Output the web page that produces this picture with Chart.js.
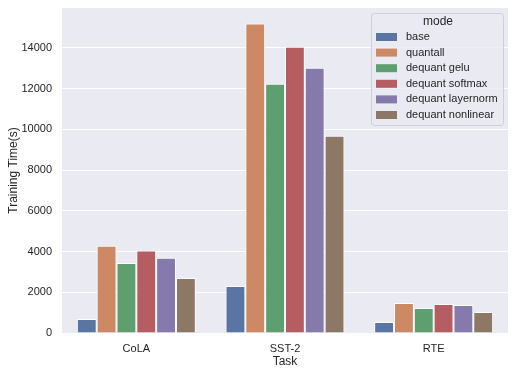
<!DOCTYPE html>
<html>
<head>
<meta charset="utf-8">
<script src="https://cdn.jsdelivr.net/npm/chart.js@4"></script>
<style>
  body { margin: 0; background: #ffffff; }
  #wrap { width: 514px; height: 374px; }
</style>
</head>
<body>
<div id="wrap"><canvas id="canvas" width="514" height="374"></canvas></div>
<script>
// categories and series
var tasks = ["CoLA", "SST-2", "RTE"];
var modes = ["base", "quantall", "dequant gelu", "dequant softmax", "dequant layernorm", "dequant nonlinear"];
var base = [690, 2310, 540];
var quantall = [4280, 15200, 1475];
var dequantGelu = [3440, 12240, 1230];
var dequantSoftmax = [4050, 14060, 1425];
var dequantLayernorm = [3690, 13030, 1380];
var dequantNonlinear = [2700, 9690, 1030];
var colors = ["#5975A4", "#CC8963", "#5F9E6E", "#B55D60", "#857AAB", "#8D7866"];
var yTicks = [0, 2000, 4000, 6000, 8000, 10000, 12000, 14000];

var series = [base, quantall, dequantGelu, dequantSoftmax, dequantLayernorm, dequantNonlinear];
var font = "'Liberation Sans', Arial, sans-serif";
var textColor = "#262626";

// grey seaborn background behind the plot
var bgPlugin = {
  id: 'bg',
  beforeDraw: function(chart) {
    var a = chart.chartArea, ctx = chart.ctx;
    ctx.save();
    ctx.fillStyle = "#EAEAF2";
    ctx.fillRect(a.left, a.top, a.right - a.left, a.bottom - a.top);
    ctx.restore();
  }
};

// legend box inside the plot, top right, with a title
var legendPlugin = {
  id: 'boxLegend',
  afterDraw: function(chart) {
    var a = chart.chartArea, ctx = chart.ctx;
    var sets = chart.data.datasets;
    var w = 132, rowH = 15.6, h = 112;
    var x = a.right - 5 - w, y = a.top + 5;
    ctx.save();
    ctx.beginPath();
    ctx.roundRect(x + 0.5, y + 0.5, w, h, 3);
    ctx.fillStyle = "rgba(234,234,242,0.8)";
    ctx.fill();
    ctx.strokeStyle = "#cfcfd6";
    ctx.lineWidth = 1;
    ctx.stroke();
    ctx.fillStyle = textColor;
    ctx.font = "12px " + font;
    ctx.textAlign = "center";
    ctx.textBaseline = "middle";
    ctx.fillText("mode", x + w / 2 + 1, y + 9);
    ctx.font = "11px " + font;
    ctx.textAlign = "left";
    for (var i = 0; i < sets.length; i++) {
      var cy = y + 24 + i * rowH;
      ctx.fillStyle = sets[i].backgroundColor;
      ctx.fillRect(x + 5, cy - 4, 21, 8);
      ctx.fillStyle = textColor;
      ctx.fillText(sets[i].label, x + 35, cy);
    }
    ctx.restore();
  }
};

var datasets = modes.map(function(m, i) {
  return {
    label: m,
    data: series[i],
    backgroundColor: colors[i],
    borderColor: "#ffffff",
    borderWidth: 1,
    categoryPercentage: 0.8,
    barPercentage: 1.0
  };
});

var config = {
  type: 'bar',
  data: { labels: tasks, datasets: datasets },
  options: {
    responsive: false,
    animation: false,
    layout: { padding: { top: 8, right: 6, left: 0, bottom: 0 } },
    plugins: {
      legend: { display: false },
      tooltip: { enabled: false }
    },
    scales: {
      x: {
        grid: { display: false },
        border: { display: false },
        ticks: { color: textColor, font: { family: font, size: 11 }, padding: 1 },
        title: { display: true, text: "Task", color: textColor, font: { family: font, size: 12 }, padding: { top: 0, bottom: 5 } },
        afterFit: function(s) { s.height = 41; s.paddingLeft = 0; s.paddingRight = 0; }
      },
      y: {
        min: 0,
        max: 15960,
        grid: { color: "#ffffff", lineWidth: 1, drawTicks: false },
        border: { display: false },
        ticks: {
          stepSize: 2000, color: textColor, font: { family: font, size: 11 }, padding: 10,
          callback: function(v) { return String(v); }
        },
        afterBuildTicks: function(s) {
          s.ticks = yTicks.map(function(v) { return { value: v }; });
        },
        title: { display: true, text: "Training Time(s)", color: textColor, font: { family: font, size: 12 }, padding: { top: 6, bottom: 0 } },
        afterFit: function(s) { s.width = 62; s.paddingTop = 0; s.paddingBottom = 0; }
      }
    }
  },
  plugins: [bgPlugin, legendPlugin]
};

new Chart(document.getElementById('canvas'), config);
</script>
</body>
</html>
